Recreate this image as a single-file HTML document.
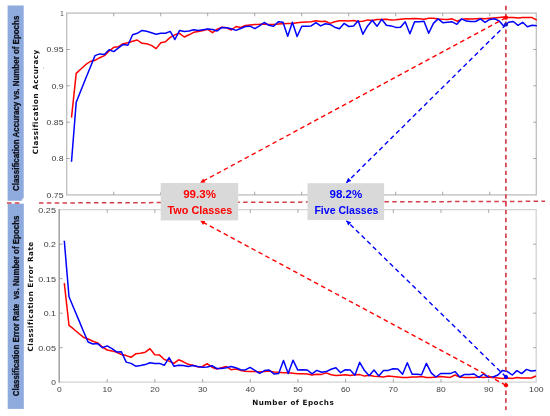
<!DOCTYPE html>
<html lang="en">
<head>
<meta charset="utf-8">
<title>Classification Accuracy and Error Rate vs. Number of Epochs</title>
<style>
html,body{margin:0;padding:0;background:#fff;}
body{width:550px;height:416px;overflow:hidden;}
svg{display:block;}
.tk{font-family:"Liberation Sans",Arial,sans-serif;font-size:7.8px;fill:#404040;}
.ax{font-family:"DejaVu Sans","Liberation Sans",sans-serif;font-weight:bold;font-size:7.2px;fill:#111;font-variant-ligatures:none;font-feature-settings:"liga" 0;}
.bar{font-family:"Liberation Sans",Arial,sans-serif;font-weight:bold;font-size:9.2px;fill:#0c0e16;stroke:#0c0e16;stroke-width:0.25px;}
.box{font-family:"Liberation Sans",Arial,sans-serif;font-weight:bold;font-size:11.7px;}
</style>
</head>
<body>
<svg width="550" height="416" viewBox="0 0 550 416">
<rect x="0" y="0" width="550" height="416" fill="#ffffff"/>
<path d="M7.6 5.6H23.7V198.6H22.2V200.7H7.6Z" fill="#8faadc"/>
<rect x="7.7" y="203.7" width="16.1" height="205.2" fill="#8faadc"/>
<text class="bar" transform="translate(18.8,191.0) rotate(-90)" textLength="175.3" lengthAdjust="spacingAndGlyphs">Classification Accuracy vs. Number of Epochs</text>
<text class="bar" transform="translate(18.9,396.3) rotate(-90)" textLength="180.7" lengthAdjust="spacingAndGlyphs">Classification Error Rate &#160;vs. Number of Epochs</text>
<rect x="66.7" y="13.1" width="469.6" height="181.8" fill="none" stroke="#bebebe" stroke-width="1.3"/>
<path d="M59.5 209.7H536.2V382.2H59.5" fill="none" stroke="#d4d4d4" stroke-width="1.3"/>
<path d="M59.2 209.1V382.8" fill="none" stroke="#a6a6a6" stroke-width="1.6"/>
<path d="M113.7 194.9v-3.2M113.7 13.1v3.2M107.2 382.2v-3.2M107.2 209.7v3.2M160.7 194.9v-3.2M160.7 13.1v3.2M154.9 382.2v-3.2M154.9 209.7v3.2M207.7 194.9v-3.2M207.7 13.1v3.2M202.6 382.2v-3.2M202.6 209.7v3.2M254.7 194.9v-3.2M254.7 13.1v3.2M250.3 382.2v-3.2M250.3 209.7v3.2M301.7 194.9v-3.2M301.7 13.1v3.2M297.9 382.2v-3.2M297.9 209.7v3.2M348.7 194.9v-3.2M348.7 13.1v3.2M345.6 382.2v-3.2M345.6 209.7v3.2M395.7 194.9v-3.2M395.7 13.1v3.2M393.3 382.2v-3.2M393.3 209.7v3.2M442.7 194.9v-3.2M442.7 13.1v3.2M441.0 382.2v-3.2M441.0 209.7v3.2M489.7 194.9v-3.2M489.7 13.1v3.2M488.7 382.2v-3.2M488.7 209.7v3.2M66.7 49.5h3.2M536.3 49.5h-3.2M59.5 244.2h3.2M536.2 244.2h-3.2M66.7 85.8h3.2M536.3 85.8h-3.2M59.5 278.7h3.2M536.2 278.7h-3.2M66.7 122.2h3.2M536.3 122.2h-3.2M59.5 313.2h3.2M536.2 313.2h-3.2M66.7 158.5h3.2M536.3 158.5h-3.2M59.5 347.7h3.2M536.2 347.7h-3.2" stroke="#707070" stroke-width="0.6" fill="none"/>
<text class="tk" x="60.2" y="15.9" textLength="3.4" lengthAdjust="spacingAndGlyphs">1</text>
<text class="tk" x="46.6" y="52.3" textLength="17.0" lengthAdjust="spacingAndGlyphs">0.95</text>
<text class="tk" x="51.4" y="88.6" textLength="12.2" lengthAdjust="spacingAndGlyphs">0.9</text>
<text class="tk" x="46.6" y="125.0" textLength="17.0" lengthAdjust="spacingAndGlyphs">0.85</text>
<text class="tk" x="51.4" y="161.3" textLength="12.2" lengthAdjust="spacingAndGlyphs">0.8</text>
<text class="tk" x="46.6" y="197.7" textLength="17.0" lengthAdjust="spacingAndGlyphs">0.75</text>
<text class="tk" x="38.3" y="212.8" textLength="17.7" lengthAdjust="spacingAndGlyphs">0.25</text>
<text class="tk" x="43.7" y="247.3" textLength="12.3" lengthAdjust="spacingAndGlyphs">0.2</text>
<text class="tk" x="38.3" y="281.8" textLength="17.7" lengthAdjust="spacingAndGlyphs">0.15</text>
<text class="tk" x="43.7" y="316.3" textLength="12.3" lengthAdjust="spacingAndGlyphs">0.1</text>
<text class="tk" x="38.3" y="350.8" textLength="17.7" lengthAdjust="spacingAndGlyphs">0.05</text>
<text class="tk" x="51.3" y="385.3" textLength="4.7" lengthAdjust="spacingAndGlyphs">0</text>
<text class="tk" x="57.1" y="391.8" textLength="4.7" lengthAdjust="spacingAndGlyphs">0</text>
<text class="tk" x="102.5" y="391.8" textLength="9.4" lengthAdjust="spacingAndGlyphs">10</text>
<text class="tk" x="150.2" y="391.8" textLength="9.4" lengthAdjust="spacingAndGlyphs">20</text>
<text class="tk" x="197.9" y="391.8" textLength="9.4" lengthAdjust="spacingAndGlyphs">30</text>
<text class="tk" x="245.6" y="391.8" textLength="9.4" lengthAdjust="spacingAndGlyphs">40</text>
<text class="tk" x="293.2" y="391.8" textLength="9.4" lengthAdjust="spacingAndGlyphs">50</text>
<text class="tk" x="340.9" y="391.8" textLength="9.4" lengthAdjust="spacingAndGlyphs">60</text>
<text class="tk" x="388.6" y="391.8" textLength="9.4" lengthAdjust="spacingAndGlyphs">70</text>
<text class="tk" x="436.3" y="391.8" textLength="9.4" lengthAdjust="spacingAndGlyphs">80</text>
<text class="tk" x="484.0" y="391.8" textLength="9.4" lengthAdjust="spacingAndGlyphs">90</text>
<text class="tk" x="529.1" y="391.8" textLength="14.5" lengthAdjust="spacingAndGlyphs">100</text>
<text class="ax" transform="translate(37.9,154.2) rotate(-90)" textLength="104.4" lengthAdjust="spacing">Classification Accuracy</text>
<text class="ax" transform="translate(33.2,351.5) rotate(-90)" textLength="109.7" lengthAdjust="spacing">Classification Error Rate</text>
<text class="ax" x="252.2" y="404.7" textLength="81.5" lengthAdjust="spacing">Number of Epochs</text>
<polyline points="71.5,117.6 76.2,73.4 80.9,69.0 85.6,64.7 90.3,61.5 95.0,60.3 99.7,57.7 104.4,55.6 109.1,51.0 113.8,47.3 118.5,46.7 123.2,43.7 127.9,42.7 132.6,41.2 137.3,40.0 142.0,43.3 146.7,43.7 151.4,45.4 156.1,48.6 160.8,42.7 165.5,41.8 170.2,37.4 174.9,34.8 179.6,33.3 184.3,37.0 189.0,34.8 193.7,32.3 198.4,31.6 203.1,30.4 207.8,29.3 212.5,32.7 217.2,29.1 221.9,27.2 226.6,27.8 231.3,30.0 236.0,26.5 240.7,27.4 245.4,25.5 250.1,25.0 254.8,24.4 259.5,24.3 264.2,24.0 268.9,24.4 273.6,24.6 278.3,24.0 283.0,23.7 287.7,23.6 292.4,23.4 297.1,22.7 301.8,22.3 306.5,22.1 311.2,21.8 315.9,20.8 320.6,21.5 325.3,21.3 330.0,23.4 334.7,21.7 339.4,20.8 344.1,20.8 348.8,21.1 353.5,20.6 358.2,21.5 362.9,21.2 367.6,19.9 372.3,20.4 377.0,19.5 381.7,19.5 386.4,19.3 391.1,20.0 395.8,19.8 400.5,19.2 405.2,18.7 409.9,18.7 414.6,18.5 419.3,18.7 424.0,19.2 428.7,18.3 433.4,18.3 438.1,18.9 442.8,19.3 447.5,19.5 452.2,18.8 456.9,21.2 461.6,19.4 466.3,18.8 471.0,19.0 475.7,18.8 480.4,18.5 485.1,18.8 489.8,18.3 494.5,18.0 499.2,17.6 503.9,17.1 508.6,17.6 513.3,17.6 518.0,18.0 522.7,17.6 527.4,17.6 532.1,17.6 536.8,20.1" fill="none" stroke="#ff0000" stroke-width="1.5" stroke-linejoin="round"/>
<polyline points="71.5,161.8 76.2,102.2 80.9,90.5 85.6,78.8 90.3,67.2 95.0,55.6 99.7,53.9 104.4,54.5 109.1,49.7 113.8,51.6 118.5,47.8 123.2,44.4 127.9,45.3 132.6,34.8 137.3,33.3 142.0,30.4 146.7,31.3 151.4,32.7 156.1,34.2 160.8,33.3 165.5,33.2 170.2,31.4 174.9,39.5 179.6,30.4 184.3,31.6 189.0,31.0 193.7,29.7 198.4,30.6 203.1,29.7 207.8,29.1 212.5,29.5 217.2,31.0 221.9,27.4 226.6,27.8 231.3,28.8 236.0,30.4 240.7,28.5 245.4,26.5 250.1,26.2 254.8,28.7 259.5,25.9 264.2,22.5 268.9,25.3 273.6,26.3 278.3,21.8 283.0,22.3 287.7,36.3 292.4,22.3 297.1,36.5 301.8,26.2 306.5,26.2 311.2,25.9 315.9,22.7 320.6,25.9 325.3,23.8 330.0,24.4 334.7,27.2 339.4,28.7 344.1,23.4 348.8,26.5 353.5,25.9 358.2,20.8 362.9,34.2 367.6,25.9 372.3,20.2 377.0,26.3 381.7,19.3 386.4,25.3 391.1,25.9 395.8,27.4 400.5,27.2 405.2,21.7 409.9,33.8 414.6,21.7 419.3,21.7 424.0,21.2 428.7,33.3 433.4,23.4 438.1,18.9 442.8,22.7 447.5,22.3 452.2,21.8 456.9,24.3 461.6,18.8 466.3,21.1 471.0,21.5 475.7,21.5 480.4,18.8 485.1,22.3 489.8,19.4 494.5,18.8 499.2,20.9 503.9,26.3 508.6,22.3 513.3,21.5 518.0,25.3 522.7,22.3 527.4,26.7 532.1,25.3 536.8,25.8" fill="none" stroke="#0000ff" stroke-width="1.5" stroke-linejoin="round"/>
<polyline points="64.3,283.2 69.0,325.3 73.8,329.2 78.6,333.3 83.3,337.2 88.1,339.0 92.9,341.3 97.6,342.9 102.4,347.0 107.2,350.0 111.9,350.9 116.7,352.4 121.4,354.5 126.2,355.6 131.0,357.3 135.7,353.8 140.5,353.2 145.3,352.2 150.0,348.7 154.8,354.7 159.6,355.1 164.3,359.5 169.1,361.1 173.9,363.4 178.6,359.8 183.4,361.8 188.2,364.3 192.9,365.3 197.7,366.9 202.4,366.5 207.2,363.7 212.0,367.2 216.7,369.1 221.5,367.8 226.3,366.5 231.0,369.7 235.8,369.1 240.6,370.4 245.3,371.2 250.1,371.6 254.9,371.6 259.6,372.0 264.4,371.6 269.2,371.0 273.9,372.0 278.7,372.3 283.5,372.7 288.2,372.7 293.0,373.2 297.8,373.8 302.5,373.8 307.3,373.9 312.0,375.1 316.8,374.2 321.6,374.4 326.3,372.9 331.1,374.8 335.9,375.5 340.6,375.2 345.4,374.8 350.2,375.5 354.9,374.8 359.7,374.6 364.5,376.1 369.2,375.2 374.0,376.3 378.8,376.6 383.5,377.0 388.3,376.1 393.0,376.5 397.8,377.0 402.6,377.4 407.3,377.4 412.1,377.1 416.9,377.1 421.6,376.5 426.4,377.4 431.2,377.6 435.9,377.0 440.7,376.6 445.5,377.0 450.2,377.4 455.0,375.0 459.8,377.0 464.5,377.4 469.3,377.6 474.1,377.4 478.8,377.0 483.6,377.4 488.3,377.0 493.1,377.6 497.9,378.0 502.6,378.4 507.4,378.0 512.2,378.4 516.9,377.6 521.7,378.0 526.5,378.0 531.2,378.0 536.0,376.0" fill="none" stroke="#ff0000" stroke-width="1.5" stroke-linejoin="round"/>
<polyline points="64.3,240.8 69.0,296.8 73.8,308.2 78.6,319.6 83.3,331.0 88.1,342.0 92.9,344.0 97.6,343.6 102.4,347.7 107.2,345.9 111.9,348.6 116.7,351.9 121.4,351.7 126.2,362.1 131.0,363.4 135.7,366.2 140.5,365.5 145.3,364.6 150.0,362.7 154.8,363.4 159.6,363.4 164.3,365.3 169.1,357.6 173.9,366.2 178.6,365.3 183.4,365.5 188.2,366.5 192.9,365.5 197.7,366.5 202.4,367.2 207.2,366.9 212.0,365.7 216.7,368.5 221.5,368.5 226.3,367.8 231.0,366.5 235.8,367.8 240.6,369.7 245.3,369.9 250.1,367.4 254.9,370.4 259.6,373.3 264.4,370.6 269.2,370.0 273.9,373.9 278.7,373.5 283.5,360.4 288.2,373.5 293.0,360.2 297.8,370.1 302.5,369.7 307.3,370.0 312.0,373.8 316.8,370.4 321.6,372.3 326.3,371.6 331.1,369.3 335.9,367.8 340.6,372.7 345.4,369.7 350.2,370.1 354.9,375.2 359.7,362.3 364.5,370.6 369.2,375.7 374.0,370.0 378.8,376.0 383.5,370.6 388.3,370.4 393.0,368.8 397.8,369.1 402.6,374.2 407.3,362.7 412.1,374.2 416.9,374.2 421.6,374.8 426.4,363.4 431.2,372.9 435.9,377.0 440.7,373.5 445.5,373.4 450.2,373.6 455.0,371.6 459.8,377.0 464.5,374.4 469.3,374.6 474.1,374.0 478.8,377.4 483.6,374.0 488.3,377.0 493.1,377.0 497.9,375.0 502.6,370.4 507.4,371.6 512.2,375.0 516.9,370.6 521.7,373.6 526.5,369.4 531.2,371.0 536.0,370.4" fill="none" stroke="#0000ff" stroke-width="1.5" stroke-linejoin="round"/>
<line x1="7" y1="203.1" x2="20.5" y2="203.05" stroke="#d2404a" stroke-width="1.5" stroke-dasharray="4.5 3.35"/>
<line x1="39" y1="203.0" x2="545" y2="201.3" stroke="#d2404a" stroke-width="1.5" stroke-dasharray="4.5 3.35"/>
<line x1="505.9" y1="5.85" x2="505.9" y2="410" stroke="#d2404a" stroke-width="1.7" stroke-dasharray="4.4 3.45"/>
<line x1="506" y1="17.7" x2="200.2" y2="182.7" stroke="#ff0000" stroke-width="1.4" stroke-dasharray="4.6 3.3"/>
<polygon points="200.2,182.7 203.2,178.5 205.3,182.5" fill="#ff0000"/>
<line x1="506" y1="24.6" x2="346.4" y2="182.7" stroke="#0000ff" stroke-width="1.4" stroke-dasharray="4.6 3.3"/>
<polygon points="346.4,182.7 348.0,177.8 351.3,181.1" fill="#0000ff"/>
<line x1="506" y1="385.3" x2="200.2" y2="220.7" stroke="#ff0000" stroke-width="1.4" stroke-dasharray="4.6 3.3"/>
<polygon points="200.2,220.7 205.3,220.9 203.2,224.9" fill="#ff0000"/>
<line x1="506" y1="377.0" x2="346.4" y2="220.7" stroke="#0000ff" stroke-width="1.4" stroke-dasharray="4.6 3.3"/>
<polygon points="346.4,220.7 351.3,222.3 348.1,225.6" fill="#0000ff"/>
<circle cx="506" cy="17.7" r="2.1" fill="#ff0000"/>
<circle cx="506" cy="24.6" r="2.1" fill="#1a1acc"/>
<circle cx="506" cy="385.3" r="2.1" fill="#ff0000"/>
<circle cx="506" cy="377.0" r="2.1" fill="#0000ff"/>
<circle cx="43.6" cy="68" r="0.55" fill="#9a9a9a"/>
<rect x="160.7" y="183.0" width="77.5" height="37.4" fill="#d9d9d9"/>
<rect x="307.5" y="183.2" width="76.6" height="36.9" fill="#d9d9d9"/>
<text class="box" x="183.2" y="197.9" textLength="32.8" lengthAdjust="spacingAndGlyphs" fill="#ff0000">99.3%</text>
<text class="box" x="167.5" y="213.6" textLength="64.9" lengthAdjust="spacingAndGlyphs" fill="#ff0000">Two Classes</text>
<text class="box" x="329.5" y="197.9" textLength="32.8" lengthAdjust="spacingAndGlyphs" fill="#0000ff">98.2%</text>
<text class="box" x="314.4" y="213.6" textLength="64.0" lengthAdjust="spacingAndGlyphs" fill="#0000ff">Five Classes</text>
</svg>
</body>
</html>
